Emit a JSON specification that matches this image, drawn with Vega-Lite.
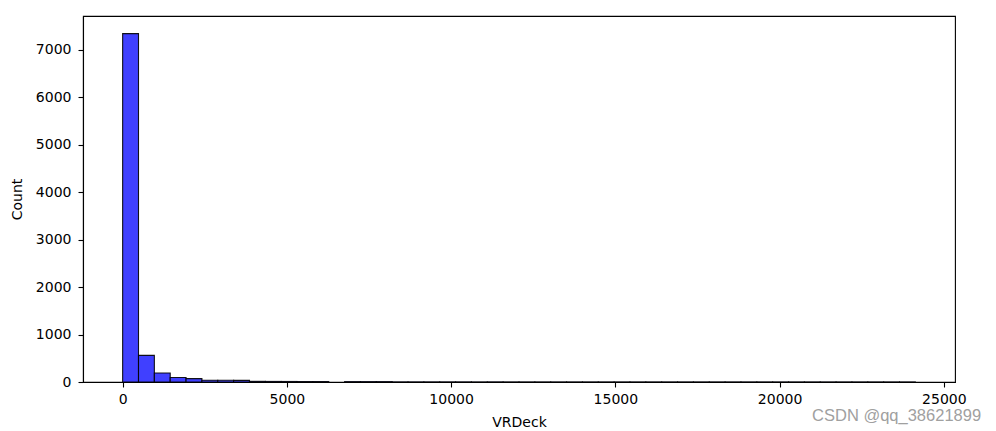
{
  "$schema": "https://vega.github.io/schema/vega-lite/v6.json",
  "description": "Histogram of VRDeck spending (50 bins).",
  "width": 872,
  "height": 366,
  "autosize": {"type": "none"},
  "padding": {"left": 83, "top": 16, "right": 41, "bottom": 49},
  "background": "white",
  "config": {
    "view": {"stroke": "black", "strokeWidth": 1.1},
    "font": "DejaVu Sans",
    "axis": {
      "grid": false,
      "domainColor": "black",
      "domainWidth": 1.1,
      "tickColor": "black",
      "tickWidth": 1.1,
      "tickSize": 5,
      "labelColor": "black",
      "labelFont": "DejaVu Sans",
      "labelFontSize": 14,
      "labelPadding": 5,
      "titleColor": "black",
      "titleFont": "DejaVu Sans",
      "titleFontSize": 14,
      "titleFontWeight": "normal"
    }
  },
  "title": {
    "text": "CSDN @qq_38621899",
    "orient": "bottom",
    "anchor": "end",
    "font": "Liberation Sans",
    "fontSize": 16.5,
    "fontWeight": "normal",
    "color": "#a0a0a0",
    "dx": 15,
    "offset": -21
  },
  "data": {
    "values": [
      {"bin_start": 0, "bin_end": 482.66, "count": 7336},
      {"bin_start": 482.66, "bin_end": 965.32, "count": 560},
      {"bin_start": 965.32, "bin_end": 1447.98, "count": 190},
      {"bin_start": 1447.98, "bin_end": 1930.64, "count": 95},
      {"bin_start": 1930.64, "bin_end": 2413.3, "count": 72},
      {"bin_start": 2413.3, "bin_end": 2895.96, "count": 38},
      {"bin_start": 2895.96, "bin_end": 3378.62, "count": 36},
      {"bin_start": 3378.62, "bin_end": 3861.28, "count": 34},
      {"bin_start": 3861.28, "bin_end": 4343.94, "count": 14},
      {"bin_start": 4343.94, "bin_end": 4826.6, "count": 12},
      {"bin_start": 4826.6, "bin_end": 5309.26, "count": 11},
      {"bin_start": 5309.26, "bin_end": 5791.92, "count": 10},
      {"bin_start": 5791.92, "bin_end": 6274.58, "count": 9},
      {"bin_start": 6757.24, "bin_end": 7239.9, "count": 8},
      {"bin_start": 7239.9, "bin_end": 7722.56, "count": 8},
      {"bin_start": 7722.56, "bin_end": 8205.22, "count": 8},
      {"bin_start": 8205.22, "bin_end": 8687.88, "count": 2},
      {"bin_start": 8687.88, "bin_end": 9170.54, "count": 2},
      {"bin_start": 9170.54, "bin_end": 9653.2, "count": 2},
      {"bin_start": 9653.2, "bin_end": 10135.86, "count": 2},
      {"bin_start": 10135.86, "bin_end": 10618.52, "count": 2},
      {"bin_start": 10618.52, "bin_end": 11101.18, "count": 1},
      {"bin_start": 11101.18, "bin_end": 11583.84, "count": 2},
      {"bin_start": 11583.84, "bin_end": 12066.5, "count": 1},
      {"bin_start": 12066.5, "bin_end": 12549.16, "count": 1},
      {"bin_start": 12549.16, "bin_end": 13031.82, "count": 1},
      {"bin_start": 13031.82, "bin_end": 13514.48, "count": 1},
      {"bin_start": 13514.48, "bin_end": 13997.14, "count": 1},
      {"bin_start": 13997.14, "bin_end": 14479.8, "count": 1},
      {"bin_start": 14479.8, "bin_end": 14962.46, "count": 1},
      {"bin_start": 14962.46, "bin_end": 15445.12, "count": 1},
      {"bin_start": 15445.12, "bin_end": 15927.78, "count": 1},
      {"bin_start": 15927.78, "bin_end": 16410.44, "count": 1},
      {"bin_start": 16410.44, "bin_end": 16893.1, "count": 1},
      {"bin_start": 16893.1, "bin_end": 17375.76, "count": 1},
      {"bin_start": 17375.76, "bin_end": 17858.42, "count": 1},
      {"bin_start": 17858.42, "bin_end": 18341.08, "count": 1},
      {"bin_start": 18341.08, "bin_end": 18823.74, "count": 1},
      {"bin_start": 18823.74, "bin_end": 19306.4, "count": 1},
      {"bin_start": 19306.4, "bin_end": 19789.06, "count": 1},
      {"bin_start": 19789.06, "bin_end": 20271.72, "count": 1},
      {"bin_start": 20271.72, "bin_end": 20754.38, "count": 1},
      {"bin_start": 20754.38, "bin_end": 21237.04, "count": 1},
      {"bin_start": 21237.04, "bin_end": 21719.7, "count": 1},
      {"bin_start": 21719.7, "bin_end": 22202.36, "count": 1},
      {"bin_start": 22202.36, "bin_end": 22685.02, "count": 1},
      {"bin_start": 22685.02, "bin_end": 23167.68, "count": 1},
      {"bin_start": 23167.68, "bin_end": 23650.34, "count": 1},
      {"bin_start": 23650.34, "bin_end": 24133, "count": 1}
    ]
  },
  "mark": {
    "type": "bar",
    "fill": "#4040ff",
    "stroke": "black",
    "strokeWidth": 1.1,
    "strokeOpacity": 0.9
  },
  "encoding": {
    "x": {
      "field": "bin_start",
      "type": "quantitative",
      "scale": {"domain": [-1207, 25340], "nice": false, "zero": false},
      "axis": {
        "title": "VRDeck",
        "values": [0, 5000, 10000, 15000, 20000, 25000],
        "format": "d",
        "labelFlush": false,
        "titlePadding": 9
      }
    },
    "x2": {"field": "bin_end"},
    "y": {
      "field": "count",
      "type": "quantitative",
      "scale": {"domain": [0, 7707], "nice": false},
      "axis": {
        "title": "Count",
        "values": [0, 1000, 2000, 3000, 4000, 5000, 6000, 7000],
        "format": "d",
        "labelPadding": 7,
        "titlePadding": 11
      }
    },
    "y2": {"datum": 0}
  }
}
